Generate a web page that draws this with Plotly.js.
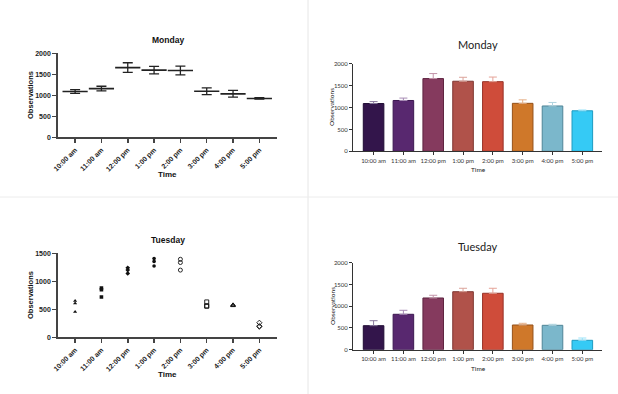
<!DOCTYPE html>
<html>
<head>
<meta charset="utf-8">
<script src="https://cdn.plot.ly/plotly-3.0.1.min.js"></script>
<style>
html,body{margin:0;padding:0;background:#fff;}
#chart{width:618px;height:394px;}
</style>
</head>
<body>
<div id="chart"></div>
<script>
// ---- data ----
const times = ['10:00 am','11:00 am','12:00 pm','1:00 pm','2:00 pm','3:00 pm','4:00 pm','5:00 pm'];
const mondayMean = [1090, 1160, 1660, 1600, 1590, 1095, 1035, 925];
const mondaySD   = [45, 55, 115, 90, 105, 80, 80, 18];
const tuesdayMean = [552, 814, 1189, 1333, 1297, 568, 561, 216];
const tuesdayErr  = [115, 92, 62, 79, 115, 39, 23, 53];
const tuesdayRepA = [650, 880, 1240, 1405, 1393, 632, 580, 260];
const tuesdayRepB = [605, 850, 1200, 1355, 1335, 560, 572, 190];
const tuesdayRepC = [455, 720, 1140, 1273, 1200, 555, 566, 200];
const leftYTicksMon = [0, 500, 1000, 1500, 2000];
const leftYTicksTue = [0, 500, 1000, 1500];
const rightYTicks = [0, 500, 1000, 1500, 2000];

// ---- styling ----
const barColors   = ['#33154b','#58286f','#853a5e','#b0524a','#cf4c3a','#cf782a','#7bb7cb','#35caf5'];
const barOutlines = ['#1f0b33','#3c1750','#5f2440','#7e3530','#973227','#94511a','#4f8597','#1d9ac0'];
const errColors   = ['#8a7a9e','#a68ab4','#c495aa','#dba39a','#e5a398','#e6b088','#b0d4df','#98e2f8'];
const tueSymbols  = ['triangle-up','square','diamond','circle','circle-open','square-open','triangle-up-open','diamond-open'];

const W = 618, H = 394;
const px = x => x / W;
const py = y => 1 - y / H;

const gpFont = 'Liberation Sans, Arial, sans-serif';
const modFont = 'Lato, Open Sans, sans-serif';

const traces = [];

// Top-left: Monday mean + SD (GraphPad style)
traces.push({
  type: 'scatter', mode: 'markers', x: times, y: mondayMean,
  xaxis: 'x', yaxis: 'y',
  marker: {symbol: 'line-ew', size: 18, color: '#222', line: {width: 1.6, color: '#222'}},
  error_y: {type: 'data', array: mondaySD, visible: true, color: '#222', thickness: 1.3, width: 5},
  hoverinfo: 'x+y', showlegend: false
});

// Bottom-left: Tuesday replicates
times.forEach((t, i) => {
  const open = tueSymbols[i].indexOf('open') >= 0;
  traces.push({
    type: 'scatter', mode: 'markers',
    x: [t, t, t], y: [tuesdayRepA[i], tuesdayRepB[i], tuesdayRepC[i]],
    xaxis: 'x3', yaxis: 'y3',
    marker: {symbol: tueSymbols[i], size: open ? 4 : 3.6, color: '#111', line: {width: open ? 0.9 : 0, color: '#111'}},
    showlegend: false
  });
});

// Right: bar charts
function addBars(means, errs, xa, ya) {
  times.forEach((t, i) => {
    traces.push({
      type: 'bar', x: [t], y: [means[i]], xaxis: xa, yaxis: ya, width: 0.69,
      marker: {color: barColors[i], line: {color: barOutlines[i], width: 1}},
      error_y: {type: 'data', symmetric: false, array: [errs[i]], arrayminus: [0], visible: true,
                color: errColors[i], thickness: 1, width: 4},
      showlegend: false
    });
  });
}
addBars(mondayMean, mondaySD, 'x2', 'y2');
addBars(tuesdayMean, tuesdayErr, 'x4', 'y4');

function leftX(anchor) {
  return {
    domain: [px(58), px(277)], anchor: anchor, type: 'category', range: [-0.65, 7.67],
    showline: true, linecolor: '#444', linewidth: 1.8, showgrid: false, zeroline: false,
    ticks: 'outside', ticklen: 4, tickwidth: 1.5, tickcolor: '#444',
    tickangle: -45, tickfont: {family: gpFont, size: 7, color: '#222', weight: 'bold'}
  };
}
function leftY(dom, range, tv, anchor) {
  return {
    domain: dom, anchor: anchor, range: range, tickvals: tv, ticktext: tv.map(String),
    showline: true, linecolor: '#444', linewidth: 1.8, showgrid: false, zeroline: false,
    ticks: 'outside', ticklen: 4, tickwidth: 1.5, tickcolor: '#444',
    tickfont: {family: gpFont, size: 7, color: '#222', weight: 'bold'}
  };
}
function rightX(anchor) {
  return {
    domain: [px(353), px(602)], anchor: anchor, type: 'category', range: [-0.69, 7.66],
    showline: true, linecolor: '#333', linewidth: 1, showgrid: false, zeroline: false,
    ticks: 'outside', ticklen: 3, tickwidth: 1, tickcolor: '#333',
    tickangle: 0, tickfont: {family: modFont, size: 6, color: '#333'}
  };
}
function rightY(dom, anchor) {
  return {
    domain: dom, anchor: anchor, range: [0, 2000], tickvals: rightYTicks, ticktext: rightYTicks.map(String),
    showline: true, linecolor: '#333', linewidth: 1, showgrid: false, zeroline: false,
    ticks: 'outside', ticklen: 3, tickwidth: 1, tickcolor: '#333',
    tickfont: {family: modFont, size: 6, color: '#333'}
  };
}

function ann(text, x, y, size, fam, bold, angle) {
  return {
    text: text, xref: 'paper', yref: 'paper', x: px(x), y: py(y), xanchor: 'center', yanchor: 'middle',
    showarrow: false, textangle: angle || 0,
    font: {family: fam, size: size, color: bold ? '#111' : '#222', weight: bold ? 'bold' : 'normal'}
  };
}

const layout = {
  width: W, height: H, margin: {l: 0, r: 0, t: 0, b: 0},
  paper_bgcolor: '#fff', plot_bgcolor: 'rgba(0,0,0,0)',
  barmode: 'overlay', showlegend: false,
  xaxis: leftX('y'),
  yaxis: leftY([py(137.3), py(53.3)], [0, 2000], leftYTicksMon, 'x'),
  xaxis2: rightX('y2'),
  yaxis2: rightY([py(151.3), py(63.7)], 'x2'),
  xaxis3: leftX('y3'),
  yaxis3: leftY([py(337.3), py(253.3)], [0, 1500], leftYTicksTue, 'x3'),
  xaxis4: rightX('y4'),
  yaxis4: rightY([py(349.7), py(262.7)], 'x4'),
  annotations: [
    ann('Monday', 167.5, 40, 8.5, gpFont, true),
    ann('Time', 167, 174, 8, gpFont, true),
    ann('Observations', 30, 95, 7.5, gpFont, true, -90),
    ann('Tuesday', 167.5, 240, 8.5, gpFont, true),
    ann('Time', 167, 374, 8, gpFont, true),
    ann('Observations', 30, 295, 7.5, gpFont, true, -90),
    ann('Monday', 478, 45, 11, modFont, false),
    ann('Time', 478, 169, 6.5, modFont, false),
    ann('Observations', 332, 107, 6.5, modFont, false, -90),
    ann('Tuesday', 478, 246, 11, modFont, false),
    ann('Time', 478, 368, 6.5, modFont, false),
    ann('Observations', 332, 306, 6.5, modFont, false, -90)
  ],
  shapes: [
    {type: 'line', xref: 'paper', yref: 'paper', x0: px(308), x1: px(308), y0: 0, y1: 1, line: {color: '#e6e6e6', width: 1}},
    {type: 'line', xref: 'paper', yref: 'paper', x0: 0, x1: 1, y0: py(197), y1: py(197), line: {color: '#ececec', width: 1}}
  ]
};

Plotly.newPlot('chart', traces, layout, {staticPlot: true, displayModeBar: false});
</script>
</body>
</html>
